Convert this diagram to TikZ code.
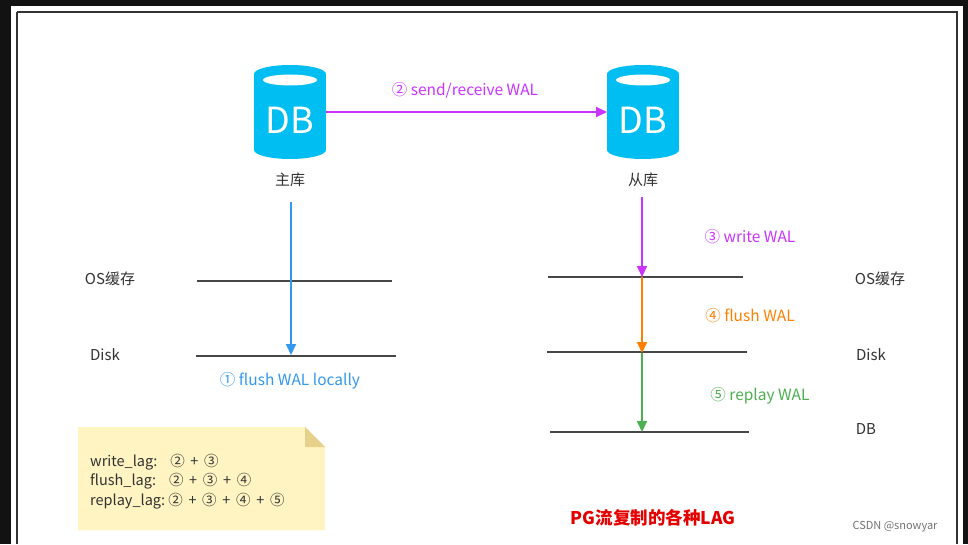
\documentclass[tikz,border=0pt]{standalone}
\usepackage{fontspec}
\setmainfont{Noto Sans CJK SC}
\newfontfamily\circf{DejaVu Sans}
\usetikzlibrary{arrows.meta}
\definecolor{dbc}{HTML}{00BEF2}
\definecolor{mag}{HTML}{CC33FF}
\definecolor{blu}{HTML}{3399EE}
\definecolor{org}{HTML}{FF8000}
\definecolor{grn}{HTML}{4CAF50}
\definecolor{txt}{HTML}{333333}
\definecolor{note}{HTML}{FFF4C2}
\definecolor{fold}{HTML}{E6D08A}
\newcommand\pls{\ \,+\ \,}
\begin{document}
\begin{tikzpicture}[x=1pt,y=-1pt,
  lvl/.style={line width=2pt,draw=txt!90},
  arr/.style={line width=2pt,-{Triangle[length=11pt,width=10pt]}},
  lab/.style={font=\fontsize{15}{18}\selectfont,text=txt},
  clab/.style={font=\fontsize{15.5}{18}\selectfont}]
\fill[black!93] (0,0) rectangle (968,544);
\fill[white] (11,6) rectangle (963,544);
\draw[line width=2pt,black!80] (17,12) -- (957,12) -- (957,544);
\draw[line width=2pt,black!80] (17,12) -- (17,544);
% cylinders
\foreach \cx/\nm in {290/dbl,643/dbr}{
  \fill[dbc] (\cx-36,74) rectangle (\cx+36,150);
  \fill[dbc] (\cx,74) ellipse (36 and 9);
  \fill[dbc] (\cx,150) ellipse (36 and 9);
  \fill[white] (\cx,80) ellipse (27 and 5.5);
  \node[text=white,font=\fontsize{36}{38}\selectfont] (\nm) at (\cx,120) {DB};
  \coordinate (\nm l) at (\cx-36,112);
  \coordinate (\nm r) at (\cx+36,112);
}
\node[lab] (zk) at (290,180) {主库};
\node[lab] (ck) at (643,180) {从库};
\draw[arr,mag] (dblr) -- (dbrl);
\node[clab,text=mag] (l2) at (465,90) {② send/receive WAL};
% left
\coordinate (a1) at (197,281); \coordinate (a2) at (392,281);
\coordinate (b1) at (196,356); \coordinate (b2) at (396,356);
\draw[lvl] (a1) -- (a2); \draw[lvl] (b1) -- (b2);
\coordinate (ls) at (291,202); \coordinate (le) at (291,355);
\draw[arr,blu] (ls) -- (le);
\node[lab] (os1) at (110,279) {OS缓存};
\node[lab] (dk1) at (105,355) {Disk};
\node[clab,text=blu] (l1) at (290,381) {① flush WAL locally};
% right
\coordinate (c1) at (548,277); \coordinate (c2) at (743,277);
\coordinate (d1) at (547,352); \coordinate (d2) at (747,352);
\coordinate (e1) at (550,432); \coordinate (e2) at (749,432);
\draw[lvl] (c1) -- (c2); \draw[lvl] (d1) -- (d2); \draw[lvl] (e1) -- (e2);
\coordinate (r0) at (642,197); \coordinate (r1) at (642,277);
\coordinate (r2) at (642,353); \coordinate (r3) at (642,432);
\draw[arr,mag] (r0) -- (r1);
\draw[arr,org] (r1) -- (r2);
\draw[arr,grn] (r2) -- (r3);
\node[clab,text=mag] (l3) at (750,237) {③ write WAL};
\node[clab,text=org] (l4) at (750,316) {④ flush WAL};
\node[clab,text=grn] (l5) at (760,396) {⑤ replay WAL};
\node[lab] (os2) at (880,279) {OS缓存};
\node[lab] (dk2) at (871,355) {Disk};
\node[lab] (db2) at (866,429) {DB};
% note
\fill[note] (78,427) -- (305,427) -- (325,447) -- (325,530) -- (78,530) -- cycle;
\fill[fold] (305,427) -- (325,447) -- (305,447) -- cycle;
\node[lab,anchor=north west,align=left,font=\fontsize{14.5}{19.5}\selectfont,inner sep=0pt] (nt) at (90,454)
 {write\_lag:\ \ \ \ ②\pls③\\flush\_lag:\ \ \ \ ②\pls③\pls④\\replay\_lag:\ ②\pls③\pls④\pls⑤};
\node[text=red!90!black,font=\bfseries\fontsize{17.5}{20}\selectfont] (tt) at (653,518) {PG流复制的各种LAG};
\node[text=black!55,font=\fontsize{11}{13}\selectfont] (cs) at (895,527) {CSDN @snowyar};
\end{tikzpicture}
\end{document}
